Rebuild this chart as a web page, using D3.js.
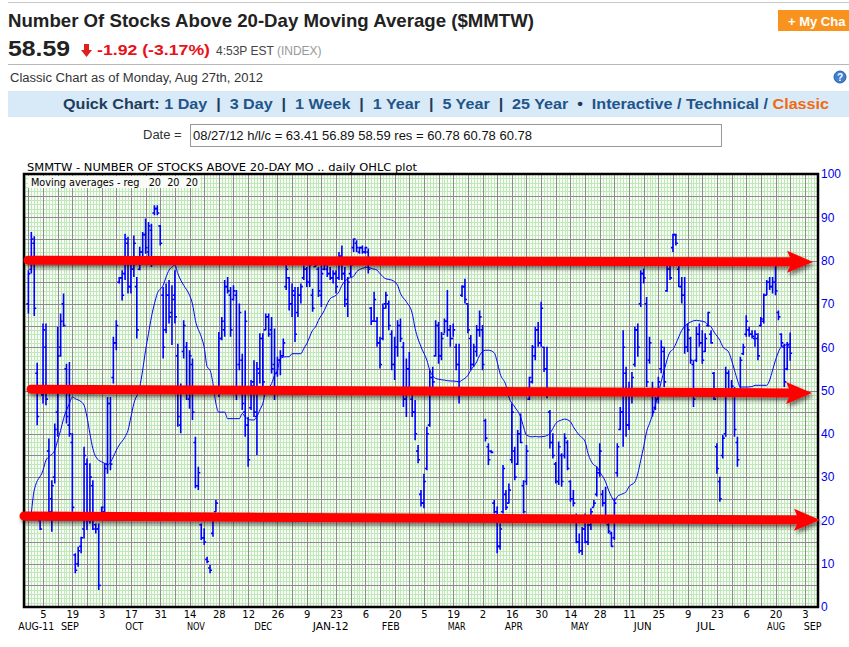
<!DOCTYPE html>
<html>
<head>
<meta charset="utf-8">
<script src="https://cdn.jsdelivr.net/npm/d3@7"></script>
<style>
  body { margin: 0; background: #fff; }
  svg { display: block; }
</style>
</head>
<body>
<svg id="chart" width="849" height="647"></svg>
<script>
// Daily OHLC values, trading day index starts at firstDay
const firstDay = 1;
const highs = [
  77.8, 86.6, 85.6, 56.4, 20.1, 65.5, 65.5, 38.9, 29.3, 42.4,
  64.7, 67.8, 72.4, 56.2, 56.6, 40.1, 12.4, 13.9, 16.2, 37.0,
  34.3, 33.2, 29.3, 19.3, 19.3, 23.2, 33.2, 48.5, 48.5, 62.4,
  66.2, 76.2, 77.8, 86.2, 85.5, 79.3, 85.8, 76.2, 83.2, 86.6,
  89.7, 88.9, 88.5, 92.8, 92.8, 88.2, 73.9, 74.7, 75.5, 74.3,
  77.8, 60.8, 51.6, 66.2, 61.2, 59.3, 57.4, 39.3, 32.4, 19.3,
  18.2, 11.6, 9.7, 20.5, 24.7, 63.5, 67.0, 75.5, 76.2, 73.9,
  74.3, 73.2, 70.1, 58.5, 68.5, 43.9, 52.4, 57.0, 56.6, 63.2,
  63.2, 67.8, 67.8, 67.0, 64.3, 57.8, 59.3, 62.0, 79.3, 76.2,
  74.7, 73.9, 73.9, 74.7, 78.9, 78.5, 79.3, 73.5, 79.3, 78.5,
  78.9, 79.3, 78.9, 78.5, 77.8, 77.8, 82.0, 83.5, 78.5, 76.2,
  79.3, 85.1, 84.7, 83.2, 83.5, 83.2, 82.8, 69.3, 72.8, 67.0,
  62.4, 70.1, 72.8, 70.8, 63.9, 62.4, 66.2, 66.6, 61.2, 57.4,
  58.9, 49.3, 47.8, 37.4, 27.0, 30.8, 41.6, 54.7, 55.5, 66.2,
  65.8, 63.5, 66.6, 73.2, 65.1, 65.5, 60.8, 60.8, 74.3, 75.8,
  70.1, 62.8, 60.8, 65.1, 68.5, 65.1, 43.5, 37.8, 36.2, 24.7,
  23.2, 19.3, 32.8, 27.0, 28.5, 47.0, 37.0, 40.9, 44.7, 29.3,
  37.4, 53.2, 60.5, 64.7, 65.8, 70.5, 60.1, 60.1, 45.5, 40.1,
  33.5, 38.2, 35.5, 40.1, 38.5, 29.3, 27.0, 21.6, 17.0, 18.5,
  21.6, 19.3, 22.8, 24.7, 32.4, 37.8, 27.0, 27.8, 19.7, 17.4,
  25.1, 37.8, 46.2, 63.9, 55.5, 52.0, 54.3, 64.7, 65.5, 77.8,
  78.2, 71.6, 62.4, 52.0, 48.5, 53.2, 61.6, 60.1, 78.9, 78.9,
  86.2, 86.2, 78.9, 76.2, 76.2, 65.5, 62.4, 57.0, 64.7, 65.5,
  63.9, 63.2, 68.2, 63.9, 54.3, 37.8, 30.1, 39.7, 55.5, 54.7,
  52.4, 50.8, 39.3, 57.8, 60.8, 67.4, 64.7, 63.9, 63.9, 63.2,
  67.0, 72.4, 75.5, 76.2, 76.2, 78.9, 68.5, 63.2, 60.8, 61.2,
  63.41
];
const lows = [
  67.8, 77.0, 67.2, 42.0, 17.8, 47.0, 46.6, 20.8, 17.4, 28.5,
  39.3, 57.8, 64.7, 42.4, 39.3, 22.0, 7.8, 9.3, 12.4, 15.8,
  17.8, 19.3, 17.8, 17.0, 3.9, 20.5, 20.8, 30.8, 31.6, 51.6,
  59.3, 74.7, 70.8, 75.5, 72.4, 72.4, 76.2, 62.0, 77.8, 80.8,
  81.6, 80.8, 78.5, 90.5, 90.5, 83.5, 57.4, 63.2, 65.5, 60.5,
  65.5, 41.6, 40.1, 57.4, 47.8, 45.8, 43.2, 27.4, 27.0, 15.5,
  14.3, 10.1, 7.8, 16.2, 22.0, 48.5, 61.6, 62.4, 72.4, 62.4,
  70.8, 47.8, 54.7, 45.5, 39.3, 32.4, 45.5, 43.9, 35.1, 51.6,
  50.8, 63.9, 62.4, 53.9, 47.8, 53.2, 53.5, 57.8, 73.2, 68.5,
  67.0, 61.2, 67.0, 70.1, 75.5, 73.9, 73.9, 68.2, 78.5, 71.6,
  69.3, 77.8, 76.2, 75.5, 74.7, 72.4, 75.5, 75.5, 69.3, 67.0,
  76.2, 82.0, 82.0, 81.6, 81.6, 81.6, 77.0, 65.1, 65.8, 60.1,
  55.1, 61.6, 68.9, 63.9, 54.7, 52.4, 57.8, 61.2, 46.2, 43.9,
  49.3, 43.9, 38.5, 33.2, 23.2, 22.8, 31.6, 41.6, 50.8, 57.8,
  56.2, 57.0, 63.2, 62.4, 60.1, 62.4, 54.7, 47.0, 71.6, 70.1,
  63.2, 54.7, 55.5, 57.8, 62.4, 54.7, 38.2, 32.8, 35.5, 21.6,
  12.4, 13.2, 21.6, 22.4, 23.9, 33.2, 29.3, 32.8, 37.8, 21.6,
  28.2, 47.8, 51.6, 57.0, 60.1, 60.1, 54.3, 48.2, 36.6, 34.3,
  28.5, 28.2, 27.8, 34.3, 31.6, 24.3, 23.2, 14.7, 12.4, 12.0,
  14.7, 14.3, 17.8, 23.2, 25.5, 30.1, 23.2, 19.3, 17.0, 13.9,
  15.5, 30.1, 40.8, 37.0, 39.3, 40.9, 47.0, 55.5, 57.8, 69.3,
  74.7, 50.8, 56.2, 44.0, 45.5, 47.0, 54.0, 50.8, 72.8, 75.5,
  82.0, 83.5, 73.9, 70.1, 58.5, 58.9, 56.2, 46.2, 56.6, 60.1,
  56.2, 58.9, 64.7, 60.8, 47.8, 30.8, 24.3, 34.3, 39.3, 48.5,
  48.5, 39.3, 32.4, 48.5, 58.2, 62.4, 62.4, 62.0, 60.1, 57.0,
  64.7, 65.5, 72.0, 73.2, 72.4, 72.0, 66.2, 60.1, 50.8, 54.7,
  56.89
];
const opens = [
  70, 78, 84, 54, 20, 49, 60, 36, 25, 30,
  45, 60, 70, 55, 42, 38, 12, 10, 14, 18,
  33, 21, 28, 19, 18, 21, 22, 33, 47, 53,
  61, 75, 76, 77, 84, 74, 78, 74, 78, 82,
  86, 82, 87, 91, 92, 88, 72, 64, 72, 68,
  72, 58, 42, 59, 60, 48, 56, 38, 28, 19,
  16, 11, 9, 17, 22, 50, 62, 64, 74, 72,
  71, 72, 56, 57, 45, 42, 46, 52, 44, 54,
  62, 64, 67, 64, 56, 54, 57, 58, 74, 76,
  70, 72, 68, 72, 76, 78, 75, 72, 78.6, 78,
  72, 78, 78, 77, 76, 77, 76, 81, 77, 70,
  77, 83, 84, 82, 83, 82, 82, 69, 66, 66,
  61, 62, 70, 70, 63, 56, 60, 65, 60, 48,
  55, 48, 45, 36, 26, 24, 32, 42, 53, 58,
  65, 58, 63, 66, 64, 62, 60, 56, 72, 74,
  70, 62, 56, 59, 64, 64, 43, 37, 36, 24,
  22, 14, 22, 26, 24, 34, 36, 33, 40, 28,
  29, 48, 52, 58, 64, 61, 60, 55, 45, 38,
  33, 29, 35, 35, 38, 29, 25, 21, 15, 13,
  18, 15, 19, 23, 26, 31, 26, 24, 19, 17,
  16, 31, 41, 45, 54, 42, 50, 56, 64, 70,
  77, 70, 57, 50, 46, 48, 55, 59, 73, 78,
  83, 86, 78, 74, 72, 60, 62, 56, 57, 63,
  61, 59, 65, 63, 54, 37, 29, 35, 40, 54,
  50, 50, 38, 49, 58.5, 63, 64, 63, 62, 62,
  65, 66, 72, 75, 74, 75, 68, 63, 60, 55,
  60
];
const closes = [
  77, 85, 69, 44, 18, 64, 48, 22, 28, 41,
  58, 66, 65, 44, 40, 23, 8.5, 13, 16, 35,
  20, 30, 18, 18, 5, 23, 32, 47, 33, 61,
  65, 76, 72, 85, 74, 78, 84, 64, 82, 86,
  83, 88, 80, 92, 91, 84, 60, 72, 67, 71,
  67, 44, 50, 65, 50, 58, 45, 28, 31, 16,
  15, 10.5, 8.5, 20, 24, 62, 66, 74, 73, 64,
  73, 50, 68, 47, 66, 34, 51, 45, 55, 62,
  52, 67, 63, 55, 50, 57, 58, 61, 78, 70,
  73, 63, 72, 74, 78, 75, 79, 69, 79, 73,
  77, 79, 77, 76, 77, 74, 81, 77, 71, 75,
  79, 85, 83, 83, 82, 83, 78, 66, 71, 61,
  56, 69, 72, 65, 56, 60, 65, 62, 48, 55,
  50, 45, 40, 34, 24, 29, 40, 53, 52, 65,
  58, 62, 66, 64, 62, 64, 56, 50, 74, 71,
  64, 56, 60, 64, 67, 56, 39, 34, 35.7, 22,
  14, 18, 32, 23, 27, 45, 30, 40, 38, 22,
  36, 53, 60, 64, 61, 69, 55, 49, 38, 35,
  29, 37, 29, 39, 32, 25, 24, 15, 13, 18,
  15, 19, 22, 24, 31, 36, 24, 20, 17.5, 14,
  24, 37, 45, 60, 42, 50, 53, 64, 60, 77,
  76, 52, 61, 45, 48, 52, 60, 52, 78, 76,
  86, 84, 74, 72, 60, 64, 57, 48, 63, 61,
  57, 62, 68, 61, 48, 32, 25, 39, 54, 50,
  51, 41, 34, 57, 60, 66, 63, 62.5, 63, 58,
  66.5, 72, 75, 74, 75, 73, 67, 61, 52, 60.5,
  58.59
];

// 20-day moving average as drawn
const maDays = [
  2, 3, 6, 7, 8, 10, 11, 12, 13, 15, 16, 17, 19, 20, 21, 22, 23, 24, 26, 27,
  28, 30, 31, 32, 34, 35, 36, 37, 39, 40, 41, 42, 43, 44, 45, 47, 48, 49, 50, 51,
  52, 53, 54, 56, 57, 58, 60, 61, 62, 63, 64, 65, 66, 68, 69, 71, 73, 74, 75, 77,
  78, 79, 80, 81, 82, 84, 85, 86, 87, 89, 90, 91, 94, 95, 96, 98, 99, 100, 102, 103,
  104, 106, 107, 108, 110, 112, 113, 115, 117, 118, 120, 121, 123, 125, 127, 128, 130, 132, 133, 135,
  137, 138, 140, 141, 143, 145, 146, 148, 149, 151, 152, 154, 155, 157, 158, 160, 161, 162, 164, 165,
  167, 169, 170, 171, 173, 174, 175, 177, 179, 180, 181, 183, 184, 186, 187, 189, 191, 192, 194, 195,
  196, 198, 199, 200, 201, 202, 204, 205, 206, 208, 209, 210, 211, 212, 213, 214, 216, 218, 220, 221,
  222, 223, 224, 225, 227, 229, 230, 232, 233, 234, 235, 237, 238, 240, 241, 242, 243, 244, 246, 248,
  249, 251, 253, 254, 255, 256, 257, 258, 259, 261
];
const maValues = [
  21.6, 27, 31.6, 33.9, 34.7, 36.2, 38.5, 40.8, 43.5, 47, 48.5, 48.1, 47.4, 46.6, 43.9, 40, 36.6, 34.7, 33.5, 33.2,
  32.8, 34.7, 36.2, 37.4, 39.3, 40.8, 43.9, 47, 50.8, 54.7, 59.3, 63.2, 67, 70, 72.4, 74.3, 76.2, 77.8, 78.5, 79,
  77, 75.5, 74.3, 72, 70, 66.2, 62.4, 60, 55.5, 54.7, 51.6, 47, 45, 45, 43.5, 43.5, 43.5, 44.7, 43.9, 43.2,
  43.2, 44, 45.5, 47, 49.7, 51.6, 53.5, 54.7, 57.4, 57.8, 57.8, 58.5, 58.5, 59.7, 60.8, 63.9, 64.7, 66.2, 68.5, 70,
  71.2, 72, 72.8, 74.3, 75.8, 76.4, 77.4, 78.2, 78.5, 78.2, 77.8, 77, 75.8, 75.5, 74.3, 72.4, 70.5, 67.8, 64.3, 60.1,
  57, 54.7, 52.8, 52.6, 52.4, 52.2, 52.2, 52, 52.4, 53.5, 54.7, 56.6, 58.1, 59.3, 59.3, 58.7, 56.6, 53.9, 51.2, 48.5,
  46.2, 43.9, 41.6, 39.7, 39.3, 39.4, 39.3, 39.4, 40.1, 41.2, 42.4, 43.2, 43.4, 42.8, 41.6, 39.7, 38.2, 35.5, 32.8, 32.4,
  31.2, 28.9, 27, 25.5, 24.5, 25.5, 26.2, 26.6, 27.8, 28.9, 30.8, 33.9, 37, 40.5, 42.4, 44.3, 49.3, 54.7, 58.9, 59.5,
  60.8, 62.4, 63.9, 64.8, 65.8, 66.2, 66.1, 65.8, 65.1, 64.7, 63.5, 61.6, 60.1, 58.9, 57, 54.7, 52.4, 50.8, 50.8, 50.9,
  51.2, 51.2, 51.2, 52.4, 54.7, 57, 58.9, 60.1, 60.4, 60.78
];

// Axis labels
const tickDays = [6, 16, 26, 36, 46, 56, 66, 76, 86, 96, 106, 116, 126, 136, 146, 156, 166, 176, 186, 196, 206, 216, 226, 236, 246, 256, 266];
const tickLabels = ["5", "19", "3", "17", "31", "14", "28", "12", "26", "9", "23", "6", "20", "5", "19", "2", "16", "30", "14", "28", "11", "25", "9", "23", "6", "20", "3"];
const monthDays = [3.5, 15, 37, 58, 81, 104, 124.5, 147, 166.5, 189, 210.5, 232, 256, 268.5];
const monthLabels = ["AUG-11", "SEP", "OCT", "NOV", "DEC", "JAN-12", "FEB", "MAR", "APR", "MAY", "JUN", "JUL", "AUG", "SEP"];
const yTicks = [0, 10, 20, 30, 40, 50, 60, 70, 80, 90, 100];

// Red annotation arrows: level at left end, level at the tip
const arrowLevels = [[80.1, 79.7], [50.3, 49.4], [21.0, 20.1]];

const quickLinks = ["1 Day", "3 Day", "1 Week", "1 Year", "5 Year", "25 Year"];

const svg = d3.select("#chart");
const plot = {left: 24, right: 818, top: 174, bottom: 607};
const chartFont = "'DejaVu Sans', sans-serif";
const webFont = "'Liberation Sans', Arial, sans-serif";

// ---------- page header ----------
svg.append("line").attr("x1", 8).attr("x2", 849).attr("y1", 2.5).attr("y2", 2.5)
  .attr("stroke", "#c8c8c8");

svg.append("text").attr("x", 8).attr("y", 27)
  .attr("font-family", webFont).attr("font-weight", "bold").attr("font-size", 19)
  .attr("fill", "#222").attr("textLength", 526).attr("lengthAdjust", "spacingAndGlyphs")
  .text("Number Of Stocks Above 20-Day Moving Average ($MMTW)");

svg.append("rect").attr("x", 778).attr("y", 10).attr("width", 71).attr("height", 21)
  .attr("fill", "#f7931e");
svg.append("text").attr("x", 788).attr("y", 26)
  .attr("font-family", webFont).attr("font-weight", "bold").attr("font-size", 13)
  .attr("fill", "#fff").text("+ My Cha");

svg.append("text").attr("x", 8).attr("y", 56)
  .attr("font-family", webFont).attr("font-weight", "bold").attr("font-size", 22)
  .attr("fill", "#222").attr("textLength", 62).attr("lengthAdjust", "spacingAndGlyphs")
  .text("58.59");

// small red down arrow
svg.append("path")
  .attr("d", "M84,44H89V50H92L86.5,57L81,50H84Z")
  .attr("fill", "#e02020");

svg.append("text").attr("x", 97).attr("y", 55)
  .attr("font-family", webFont).attr("font-weight", "bold").attr("font-size", 15)
  .attr("fill", "#e8101a").attr("textLength", 113).attr("lengthAdjust", "spacingAndGlyphs")
  .text("-1.92 (-3.17%)");

const tm = svg.append("text").attr("x", 216).attr("y", 55)
  .attr("font-family", webFont).attr("font-size", 12);
tm.append("tspan").attr("fill", "#444").text("4:53P EST ");
tm.append("tspan").attr("fill", "#999").text("(INDEX)");

svg.append("line").attr("x1", 8).attr("x2", 849).attr("y1", 64.5).attr("y2", 64.5)
  .attr("stroke", "#b8b8b8");

svg.append("text").attr("x", 10).attr("y", 82)
  .attr("font-family", webFont).attr("font-size", 12)
  .attr("fill", "#333").attr("textLength", 253).attr("lengthAdjust", "spacingAndGlyphs")
  .text("Classic Chart as of Monday, Aug 27th, 2012");

svg.append("circle").attr("cx", 840).attr("cy", 77).attr("r", 6)
  .attr("fill", "#3f7fcf").attr("stroke", "#2a5ea8");
svg.append("text").attr("x", 840).attr("y", 81).attr("text-anchor", "middle")
  .attr("font-family", webFont).attr("font-weight", "bold").attr("font-size", 10)
  .attr("fill", "#fff").text("?");

svg.append("rect").attr("x", 8).attr("y", 91).attr("width", 841).attr("height", 26)
  .attr("fill", "#d8e9f8");

const qc = svg.append("text").attr("x", 63).attr("y", 109)
  .attr("font-family", webFont).attr("font-weight", "bold").attr("font-size", 14)
  .attr("textLength", 766).attr("lengthAdjust", "spacingAndGlyphs")
  .attr("xml:space", "preserve");
qc.append("tspan").attr("fill", "#1e3d5c").text("Quick Chart: ");
quickLinks.forEach((s, i) => {
  qc.append("tspan").attr("fill", "#1f5589").text(s);
  if (i < quickLinks.length - 1) qc.append("tspan").attr("fill", "#1e3d5c").text("  |  ");
});
qc.append("tspan").attr("fill", "#1e3d5c").text("  \u2022  ");
qc.append("tspan").attr("fill", "#1f5589").text("Interactive / Technical / ");
qc.append("tspan").attr("fill", "#f06a10").text("Classic");

svg.append("text").attr("x", 143).attr("y", 139)
  .attr("font-family", webFont).attr("font-size", 13).attr("fill", "#333")
  .text("Date =");
svg.append("rect").attr("x", 190.5).attr("y", 124.5).attr("width", 531).attr("height", 22)
  .attr("fill", "#fff").attr("stroke", "#999");
svg.append("text").attr("x", 193).attr("y", 140)
  .attr("font-family", webFont).attr("font-size", 13).attr("fill", "#111")
  .text("08/27/12 h/l/c = 63.41 56.89 58.59 res = 60.78 60.78 60.78");

// ---------- chart ----------
const x = d3.scaleLinear().domain([-0.5, 270.5]).range([plot.left, plot.right]);
const y = d3.scaleLinear().domain([0, 100]).range([plot.bottom, plot.top]);

const defs = svg.append("defs");
defs.append("clipPath").attr("id", "plotClip")
  .append("rect").attr("x", plot.left).attr("y", plot.top)
  .attr("width", plot.right - plot.left).attr("height", plot.bottom - plot.top);
const shadow = defs.append("filter").attr("id", "shadow")
  .attr("x", "-5%").attr("y", "-100%").attr("width", "110%").attr("height", "300%");
shadow.append("feDropShadow").attr("dx", 2).attr("dy", 3).attr("stdDeviation", 2)
  .attr("flood-color", "#000").attr("flood-opacity", 0.55);

svg.append("text").attr("x", 27).attr("y", 171)
  .attr("font-family", chartFont).attr("font-size", 11).attr("fill", "#000")
  .attr("textLength", 390).attr("lengthAdjust", "spacingAndGlyphs")
  .text("SMMTW - NUMBER OF STOCKS ABOVE 20-DAY MO .. daily OHLC plot");

// grid
const grid = svg.append("g").attr("clip-path", "url(#plotClip)");
grid.append("rect").attr("x", plot.left).attr("y", plot.top)
  .attr("width", plot.right - plot.left).attr("height", plot.bottom - plot.top)
  .attr("fill", "#f8fbf6");
grid.selectAll("line.gv").data(d3.range(0, 271)).join("line")
  .attr("class", "gv")
  .attr("x1", d => Math.round(x(d)) + 0.5).attr("x2", d => Math.round(x(d)) + 0.5)
  .attr("y1", plot.top).attr("y2", plot.bottom)
  .attr("stroke", "#c0e9b9").attr("stroke-width", 1);
grid.selectAll("line.gh").data(d3.range(0, 101)).join("line")
  .attr("class", "gh")
  .attr("y1", d => Math.round(y(d)) + 0.5).attr("y2", d => Math.round(y(d)) + 0.5)
  .attr("x1", plot.left).attr("x2", plot.right)
  .attr("stroke", "#c0e9b9").attr("stroke-width", 1);
grid.selectAll("line.mv").data(d3.range(1, 271, 5)).join("line")
  .attr("class", "mv")
  .attr("x1", d => Math.round(x(d)) + 0.5).attr("x2", d => Math.round(x(d)) + 0.5)
  .attr("y1", plot.top).attr("y2", plot.bottom)
  .attr("stroke", "#8c8c8c").attr("stroke-width", 1);
grid.selectAll("line.mh").data(d3.range(0, 101, 5)).join("line")
  .attr("class", "mh")
  .attr("y1", d => Math.round(y(d)) + 0.5).attr("y2", d => Math.round(y(d)) + 0.5)
  .attr("x1", plot.left).attr("x2", plot.right)
  .attr("stroke", "#8c8c8c").attr("stroke-width", 1);

svg.append("rect").attr("x", 28).attr("y", 176).attr("width", 172).attr("height", 12)
  .attr("fill", "#f8fbf6");
svg.append("text").attr("x", 31).attr("y", 186)
  .attr("font-family", chartFont).attr("font-size", 11).attr("fill", "#000")
  .attr("textLength", 167).attr("lengthAdjust", "spacingAndGlyphs")
  .attr("xml:space", "preserve")
  .text("Moving averages - reg   20  20  20");

// OHLC bars
const bars = highs.map((h, i) => ({
  day: firstDay + i, high: h, low: lows[i], open: opens[i], close: closes[i]
}));
svg.append("g").attr("clip-path", "url(#plotClip)")
  .selectAll("path").data(bars).join("path")
  .attr("d", d => {
    const cx = x(d.day);
    return `M${cx},${y(d.high)}V${y(d.low)}M${cx - 2},${y(d.open)}H${cx}M${cx},${y(d.close)}H${cx + 2}`;
  })
  .attr("fill", "none").attr("stroke", "#0000ff").attr("stroke-width", 1.6);

// moving average
const ma = maDays.map((d, i) => [d, maValues[i]]);
svg.append("path").datum(ma)
  .attr("d", d3.line().x(d => x(d[0])).y(d => y(d[1])).curve(d3.curveMonotoneX))
  .attr("fill", "none").attr("stroke", "#0000ff").attr("stroke-width", 1);

// frame
svg.append("rect").attr("x", plot.left).attr("y", plot.top)
  .attr("width", plot.right - plot.left).attr("height", plot.bottom - plot.top)
  .attr("fill", "none").attr("stroke", "#000").attr("stroke-width", 2.5);

// right axis
const yAxis = svg.append("g").attr("transform", `translate(${plot.right + 2},0)`)
  .call(d3.axisRight(y).tickValues(yTicks).tickSize(0).tickPadding(1));
yAxis.select(".domain").remove();
yAxis.selectAll("text").attr("font-family", webFont).attr("font-size", 12)
  .attr("fill", "#0000ee");

// bottom axis: day numbers and months
const xAxis = svg.append("g").attr("transform", `translate(0,${plot.bottom})`)
  .call(d3.axisBottom(x).tickValues(tickDays).tickFormat((d, i) => tickLabels[i])
    .tickSize(0).tickPadding(4));
xAxis.select(".domain").remove();
xAxis.selectAll("text").attr("font-family", chartFont).attr("font-size", 10)
  .attr("fill", "#000");

const mAxis = svg.append("g").attr("transform", `translate(0,${plot.bottom + 12})`)
  .call(d3.axisBottom(x).tickValues(monthDays).tickFormat((d, i) => monthLabels[i])
    .tickSize(0).tickPadding(4));
mAxis.select(".domain").remove();
mAxis.selectAll("text").attr("font-family", chartFont).attr("font-size", 10)
  .attr("fill", "#000").attr("textLength", (d, i) => monthLabels[i].length * 6)
  .attr("lengthAdjust", "spacingAndGlyphs");

// red arrows
const arrowStart = [24, 27, 20];
const arrowTip = [813, 812, 820];
const arrows = svg.append("g").attr("filter", "url(#shadow)");
arrowLevels.forEach((lv, i) => {
  const y0 = y(lv[0]), y1 = y(lv[1]);
  const x0 = arrowStart[i], xt = arrowTip[i], xb = xt - 24;
  const yb = y0 + (y1 - y0) * (xb - x0) / (xt - x0);
  arrows.append("line").attr("x1", x0 + 4).attr("y1", y0).attr("x2", xb + 2).attr("y2", yb)
    .attr("stroke", "#ff0000").attr("stroke-width", 9).attr("stroke-linecap", "round");
  arrows.append("path")
    .attr("d", `M${xb - 2},${yb - 11}L${xt},${y1}L${xb - 2},${yb + 11}L${xb + 3},${yb}Z`)
    .attr("fill", "#ff0000");
});
</script>
</body>
</html>
